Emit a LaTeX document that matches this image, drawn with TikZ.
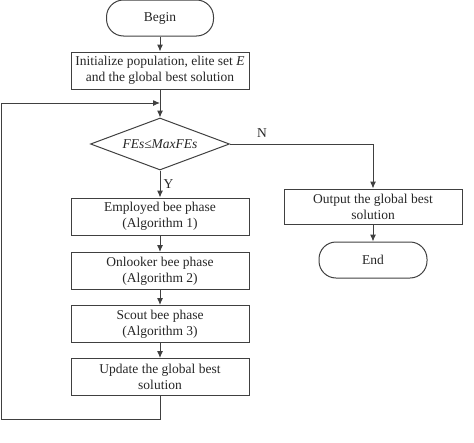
\documentclass[tikz,border=0pt]{standalone}
\usepackage{fontspec}
\setmainfont{Liberation Serif}
\usepackage{tikz}
\usetikzlibrary{arrows.meta,shapes,positioning}
\tikzset{box/.style={shape=rectangle, draw, minimum width=178pt,
    minimum height=37pt, align=center, inner sep=1pt}}
\tikzset{term/.style={shape=rectangle, draw, rounded corners=17pt,
    minimum width=107pt, minimum height=36pt}}
\tikzset{test/.style={shape=diamond, draw, aspect=2.67, minimum width=139pt,
    minimum height=52pt, inner sep=0pt}}

\begin{document}
\begin{tikzpicture}[>={Latex[length=7pt,width=6pt]}, x=1pt, y=-1pt, line width=1pt, draw=black!75]
    \tikzstyle{every node}=[font=\fontsize{13.5}{16}\selectfont, draw=black!75, text=black!85]
    \useasboundingbox (0,0) rectangle (474,442);
    \node[term] (begin) at (160,18) {Begin};
    \node[box] (init) at (160,70.5) {Initialize population, elite set \textit{E}\\and the global best solution};
    \node[test] (cond) at (160,144) {\textit{FEs≤MaxFEs}};
    \node[box] (emp) at (160,216.5) {Employed bee phase\\(Algorithm 1)};
    \node[box] (onl) at (160,271) {Onlooker bee phase\\(Algorithm 2)};
    \node[box] (sco) at (160,324) {Scout bee phase\\(Algorithm 3)};
    \node[box] (upd) at (160,377) {Update the global best\\solution};
    \node[box, minimum height=35pt] (out) at (373,206.5) {Output the global best\\solution};
    \node[term, minimum width=108pt] (stop) at (373,260) {End};
    \coordinate (back) at (160,103);
    \draw[->] (begin) -- (init);
    \draw (init) -- (back);
    \draw[->] (back) -- (cond);
    \draw[->] (cond) -- (emp);
    \node[draw=none, anchor=west, inner sep=0pt] at (163,184) {Y};
    \draw[->] (emp) -- (onl);
    \draw[->] (onl) -- (sco);
    \draw[->] (sco) -- (upd);
    \draw[->] (cond.east) -| (out.north);
    \node[draw=none] at (262,133) {N};
    \draw[->] (out) -- (stop);
    \draw[->] (upd.south) -- (160,419) -- (1.5,419) -- (1.5,103) -- (back);
\end{tikzpicture}
\end{document}
